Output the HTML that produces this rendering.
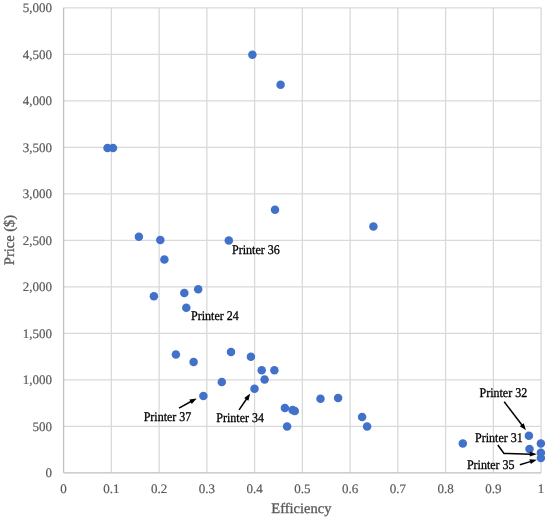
<!DOCTYPE html>
<html><head><meta charset="utf-8"><style>
html,body{margin:0;padding:0;background:#fff;}
body{width:550px;height:519px;overflow:hidden;}
svg{display:block;text-rendering:geometricPrecision;}
#wrap{width:550px;height:519px;}
.grid line{stroke:#d9d9d9;stroke-width:1.3;}
.ax line{stroke:#bfbfbf;stroke-width:1.3;}
.tick{font-family:"Liberation Serif",serif;font-size:13px;fill:#595959;stroke:#595959;stroke-width:0.2;}
.title{font-family:"Liberation Serif",serif;font-size:14.5px;fill:#595959;stroke:#595959;stroke-width:0.3;}
.dl{font-family:"Liberation Serif",serif;font-size:12px;fill:#000;stroke:#000;stroke-width:0.28;}
.pts circle{fill:#4271ca;}
.arr path{stroke:#000;stroke-width:1.5;fill:none;stroke-linejoin:miter;}
.arr polygon{fill:#000;}
</style></head><body>
<div id="wrap"><svg width="550" height="519" viewBox="0 0 550 519">

<rect width="550" height="519" fill="#fff"/>
<g class="grid">
<line x1="111.35" y1="7.8" x2="111.35" y2="472.8"/>
<line x1="159.10" y1="7.8" x2="159.10" y2="472.8"/>
<line x1="206.85" y1="7.8" x2="206.85" y2="472.8"/>
<line x1="254.60" y1="7.8" x2="254.60" y2="472.8"/>
<line x1="302.35" y1="7.8" x2="302.35" y2="472.8"/>
<line x1="350.10" y1="7.8" x2="350.10" y2="472.8"/>
<line x1="397.85" y1="7.8" x2="397.85" y2="472.8"/>
<line x1="445.60" y1="7.8" x2="445.60" y2="472.8"/>
<line x1="493.35" y1="7.8" x2="493.35" y2="472.8"/>
<line x1="541.10" y1="7.8" x2="541.10" y2="472.8"/>
<line x1="63.6" y1="426.30" x2="541.1" y2="426.30"/>
<line x1="63.6" y1="379.80" x2="541.1" y2="379.80"/>
<line x1="63.6" y1="333.30" x2="541.1" y2="333.30"/>
<line x1="63.6" y1="286.80" x2="541.1" y2="286.80"/>
<line x1="63.6" y1="240.30" x2="541.1" y2="240.30"/>
<line x1="63.6" y1="193.80" x2="541.1" y2="193.80"/>
<line x1="63.6" y1="147.30" x2="541.1" y2="147.30"/>
<line x1="63.6" y1="100.80" x2="541.1" y2="100.80"/>
<line x1="63.6" y1="54.30" x2="541.1" y2="54.30"/>
<line x1="63.6" y1="7.80" x2="541.1" y2="7.80"/>
</g>
<g class="ax">
<line x1="63.6" y1="7.8" x2="63.6" y2="472.8"/>
<line x1="63.6" y1="472.8" x2="541.1" y2="472.8"/>
</g>
<g class="tick" text-anchor="end">
<text x="52" y="477.30">0</text>
<text x="52" y="430.80">500</text>
<text x="52" y="384.30">1,000</text>
<text x="52" y="337.80">1,500</text>
<text x="52" y="291.30">2,000</text>
<text x="52" y="244.80">2,500</text>
<text x="52" y="198.30">3,000</text>
<text x="52" y="151.80">3,500</text>
<text x="52" y="105.30">4,000</text>
<text x="52" y="58.80">4,500</text>
<text x="52" y="12.30">5,000</text>
</g>
<g class="tick" text-anchor="middle">
<text x="63.60" y="493">0</text>
<text x="111.35" y="493">0.1</text>
<text x="159.10" y="493">0.2</text>
<text x="206.85" y="493">0.3</text>
<text x="254.60" y="493">0.4</text>
<text x="302.35" y="493">0.5</text>
<text x="350.10" y="493">0.6</text>
<text x="397.85" y="493">0.7</text>
<text x="445.60" y="493">0.8</text>
<text x="493.35" y="493">0.9</text>
<text x="541.10" y="493">1</text>
</g>
<text class="title" x="301.4" y="513.3" text-anchor="middle">Efficiency</text>
<text class="title" transform="translate(14.2,240) rotate(-90)" text-anchor="middle">Price ($)</text>
<g class="pts">
<circle cx="252.4" cy="54.8" r="4.25"/>
<circle cx="280.6" cy="84.8" r="4.25"/>
<circle cx="107.5" cy="148.0" r="4.25"/>
<circle cx="113" cy="148.0" r="4.25"/>
<circle cx="275.0" cy="209.7" r="4.25"/>
<circle cx="138.9" cy="236.8" r="4.25"/>
<circle cx="160.3" cy="240.1" r="4.25"/>
<circle cx="228.8" cy="240.4" r="4.25"/>
<circle cx="164.4" cy="259.5" r="4.25"/>
<circle cx="153.9" cy="296.3" r="4.25"/>
<circle cx="184.3" cy="292.9" r="4.25"/>
<circle cx="198.2" cy="289.2" r="4.25"/>
<circle cx="186.3" cy="307.7" r="4.25"/>
<circle cx="175.9" cy="354.5" r="4.25"/>
<circle cx="193.6" cy="361.9" r="4.25"/>
<circle cx="231.0" cy="351.9" r="4.25"/>
<circle cx="250.9" cy="356.8" r="4.25"/>
<circle cx="261.7" cy="370.2" r="4.25"/>
<circle cx="274.4" cy="370.2" r="4.25"/>
<circle cx="264.6" cy="379.5" r="4.25"/>
<circle cx="221.8" cy="382.0" r="4.25"/>
<circle cx="203.4" cy="395.9" r="4.25"/>
<circle cx="254.5" cy="388.8" r="4.25"/>
<circle cx="284.9" cy="408.1" r="4.25"/>
<circle cx="292.6" cy="410.1" r="4.25"/>
<circle cx="294.8" cy="411.0" r="4.25"/>
<circle cx="287.1" cy="426.6" r="4.25"/>
<circle cx="320.5" cy="398.7" r="4.25"/>
<circle cx="338.1" cy="398.1" r="4.25"/>
<circle cx="362.1" cy="417.1" r="4.25"/>
<circle cx="367.1" cy="426.6" r="4.25"/>
<circle cx="373.4" cy="226.6" r="4.25"/>
<circle cx="462.8" cy="443.6" r="4.25"/>
<circle cx="528.9" cy="435.8" r="4.25"/>
<circle cx="529.5" cy="448.9" r="4.25"/>
<circle cx="540.9" cy="443.6" r="4.25"/>
<circle cx="540.9" cy="452.8" r="4.25"/>
<circle cx="540.9" cy="458.0" r="4.25"/>
</g>
<g class="dl">
<text transform="translate(232.1,253.9) scale(1,1.1)">Printer 36</text>
<text transform="translate(191.1,319.5) scale(1,1.1)">Printer 24</text>
<text transform="translate(143.7,421.3) scale(1,1.1)">Printer 37</text>
<text transform="translate(216.3,421.6) scale(1,1.1)">Printer 34</text>
<text transform="translate(479.5,396.9) scale(1,1.1)">Printer 32</text>
<text transform="translate(475.1,441.8) scale(1,1.1)">Printer 31</text>
<text transform="translate(466.9,469.3) scale(1,1.1)">Printer 35</text>
</g>
<g class="arr">
<path d="M179.00,408.10 L191.44,401.28"/>
<polygon points="196.70,398.40 191.76,403.96 189.36,399.57"/>
<path d="M239.10,409.90 L246.84,398.47"/>
<polygon points="250.20,393.50 248.35,400.70 244.21,397.90"/>
<path d="M504.20,401.80 L522.35,425.53"/>
<polygon points="526.00,430.30 519.76,426.26 523.73,423.22"/>
<path d="M497.80,445.00 L504.00,453.40 L530.80,454.14"/>
<polygon points="536.80,454.30 529.73,456.61 529.87,451.61"/>
<path d="M519.90,464.70 L531.05,461.40"/>
<polygon points="536.80,459.70 530.80,464.08 529.38,459.29"/>
</g>
</svg></div>
</body></html>
